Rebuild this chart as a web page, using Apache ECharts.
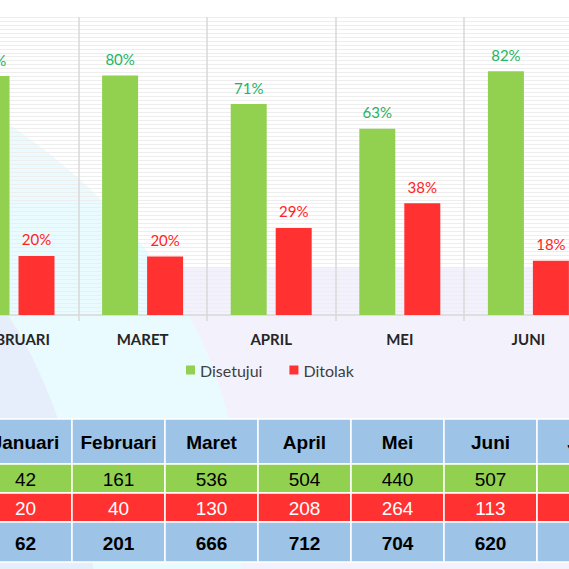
<!DOCTYPE html>
<html>
<head>
<meta charset="utf-8">
<script src="https://cdn.jsdelivr.net/npm/echarts@6/dist/echarts.min.js"></script>
<style>
    html, body { margin: 0; padding: 0; background: #ffffff; }
    #main { width: 569px; height: 569px; }
</style>
</head>
<body>
<div id="main"></div>
<script>
// data
var chartMonths = ['FEBRUARI', 'MARET', 'APRIL', 'MEI', 'JUNI'];
var pctDisetujui = [80.2, 80.4, 70.8, 62.5, 81.8];
var pctDitolak = [19.8, 19.6, 29.2, 37.5, 18.2];

var tableMonths = ['Januari', 'Februari', 'Maret', 'April', 'Mei', 'Juni', 'Juli'];
var jumlahDisetujui = [42, 161, 536, 504, 440, 507, null];
var jumlahDitolak = [20, 40, 130, 208, 264, 113, null];
var jumlahTotal = [62, 201, 666, 712, 704, 620, null];

// table layout (row heights in px, stacked)
var rowEdges = [0, 45, 74, 103, 143];
var rowFill = ['#9dc3e6', '#92d050', '#ff3131', '#9dc3e6'];
var rowText = ['#000000', '#000000', '#ffffff', '#000000'];
var rowWeight = ['bold', 'normal', 'normal', 'bold'];
var tableRows = [tableMonths, jumlahDisetujui, jumlahDitolak, jumlahTotal];

var cells = [];
for (var r = 0; r < tableRows.length; r++) {
    for (var c = 0; c < tableMonths.length; c++) {
        cells.push([c, r]);
    }
}

function renderCell(params, api) {
    var cell = cells[params.dataIndex];
    var c = cell[0], r = cell[1];
    var w = api.size([1, 0])[0];
    var cx = api.coord([c, 0])[0];
    var top = api.coord([c, rowEdges[r]])[1];
    var bottom = api.coord([c, rowEdges[r + 1]])[1];
    var v = tableRows[r][c];
    return {
        type: 'group',
        children: [{
            type: 'rect',
            shape: {x: cx - w / 2, y: top, width: w, height: bottom - top},
            style: {fill: rowFill[r], stroke: '#ffffff', lineWidth: 1.5}
        }, {
            type: 'text',
            x: cx,
            y: (top + bottom) / 2 + 1,
            style: {
                text: v == null ? '' : String(v),
                fill: rowText[r],
                font: rowWeight[r] + ' 19px "Liberation Sans", Arial, sans-serif',
                align: 'center',
                verticalAlign: 'middle'
            }
        }]
    };
}

// background swoosh: cubic curve sampled into a closed polygon
function swoosh(p0, p1, p2, p3) {
    var pts = [];
    for (var i = 0; i <= 40; i++) {
        var t = i / 40, u = 1 - t;
        pts.push([
            u * u * u * p0[0] + 3 * u * u * t * p1[0] + 3 * u * t * t * p2[0] + t * t * t * p3[0],
            u * u * u * p0[1] + 3 * u * u * t * p1[1] + 3 * u * t * t * p2[1] + t * t * t * p3[1]
        ]);
    }
    pts.push([-10, 580]);
    return pts;
}

var myChart = echarts.init(document.getElementById('main'), null, {renderer: 'svg'});

var option = {
    backgroundColor: '#ffffff',
    animation: false,
    graphic: {
        elements: [
            {type: 'rect', z: -10, silent: true, shape: {x: 0, y: 268, width: 569, height: 301}, style: {fill: '#f3f2fc'}},
            {type: 'polygon', z: -9, silent: true, shape: {points: swoosh([-5, 115], [125, 200], [260, 340], [240, 580])}, style: {fill: '#e9fbfe'}},
            {type: 'polygon', z: -8, silent: true, shape: {points: swoosh([-10, 290], [30, 340], [75, 430], [95, 580])}, style: {fill: '#e7eefb'}}
        ]
    },
    legend: {
        data: ['Disetujui', 'Ditolak'],
        left: 181,
        top: 357,
        icon: 'rect',
        itemWidth: 9,
        itemHeight: 9,
        itemGap: 27,
        textStyle: {fontFamily: 'Lato', fontSize: 16, color: '#404040'}
    },
    grid: [
        {left: -50.3, width: 643, top: 17, height: 298, outerBoundsMode: 'none', containLabel: false},
        {left: -21, width: 651, top: 419, height: 143, outerBoundsMode: 'none', containLabel: false}
    ],
    xAxis: [{
        type: 'category',
        gridIndex: 0,
        data: chartMonths,
        axisLine: {lineStyle: {color: '#d9d9d9', width: 1.5}},
        axisTick: {show: true, length: 6, lineStyle: {color: '#d9d9d9', width: 1.5}},
        splitLine: {show: true, lineStyle: {color: '#d9d9d9', width: 1.5}},
        axisLabel: {
            margin: 16,
            fontFamily: 'Lato',
            fontWeight: 'bold',
            fontSize: 15,
            color: '#262626',
            interval: 0
        }
    }, {
        type: 'category',
        gridIndex: 1,
        data: tableMonths,
        show: false
    }],
    yAxis: [{
        type: 'value',
        gridIndex: 0,
        min: 0,
        max: 100,
        show: false,
        splitLine: {show: false}
    }, {
        // striped background of the plot area
        type: 'value',
        gridIndex: 0,
        min: 0,
        max: 75,
        interval: 1,
        axisLine: {show: false},
        axisTick: {show: false},
        axisLabel: {show: false},
        splitLine: {show: true, lineStyle: {color: '#eeeeee', width: 1}}
    }, {
        type: 'value',
        gridIndex: 1,
        min: 0,
        max: 143,
        inverse: true,
        show: false
    }],
    series: [
        {
            name: 'Disetujui',
            type: 'bar',
            xAxisIndex: 0,
            yAxisIndex: 0,
            barWidth: 36,
            barGap: '25%',
            itemStyle: {color: '#92d050'},
            label: {
                show: true,
                position: 'top',
                distance: 9,
                fontFamily: 'Lato',
                fontSize: 15,
                color: '#22b565',
                formatter: function (p) { return Math.round(p.value) + '%'; }
            },
            data: pctDisetujui
        },
        {
            name: 'Ditolak',
            type: 'bar',
            xAxisIndex: 0,
            yAxisIndex: 0,
            barWidth: 36,
            itemStyle: {color: '#ff3131'},
            label: {
                show: true,
                position: 'top',
                distance: 9,
                fontFamily: 'Lato',
                fontSize: 15,
                color: '#ff2424',
                formatter: function (p) { return Math.round(p.value) + '%'; }
            },
            data: pctDitolak
        },
        {
            name: 'tabel',
            type: 'custom',
            xAxisIndex: 1,
            yAxisIndex: 2,
            clip: false,
            silent: true,
            renderItem: renderCell,
            data: cells
        }
    ]
};

myChart.setOption(option);
window.onresize = myChart.resize;
</script>
</body>
</html>
